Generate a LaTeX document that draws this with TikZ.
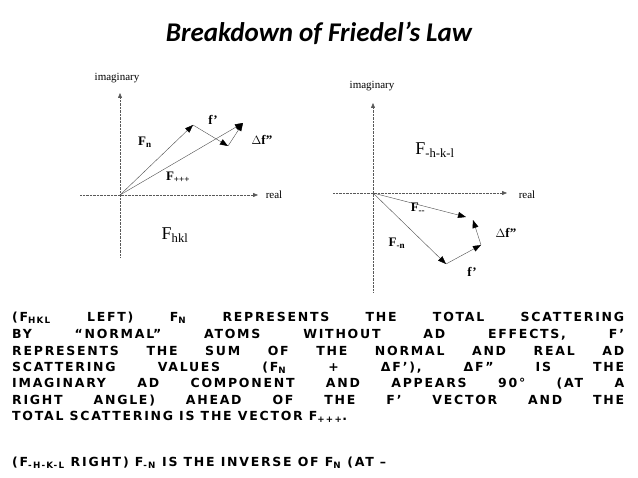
\documentclass[tikz,border=0pt]{standalone}
\usepackage{fontspec}
\setmainfont{Liberation Serif}
\newfontfamily\titlefont{Carlito}
\newfontfamily\bodyfont[LetterSpace=14]{DejaVu Sans}
\usetikzlibrary{arrows.meta}
\begin{document}
\begin{tikzpicture}[x=1pt,y=-1pt,
  axis/.style={densely dotted,gray!70!black,-{Triangle[length=5pt,width=4pt]}},
  vec/.style={gray!60!black,thin,-{Triangle[length=8pt,width=6pt,black]}},
  lab/.style={font=\bfseries\fontsize{13}{14}\selectfont,inner sep=0},
  ax/.style={font=\fontsize{11}{12}\selectfont,inner sep=0},
  big/.style={font=\fontsize{18}{19}\selectfont,inner sep=0},
  line/.style={anchor=west,inner sep=0,font=\bodyfont\bfseries\fontsize{12.5}{13}\selectfont}]
\useasboundingbox (0,0) rectangle (638,478);
\node[font=\titlefont\bfseries\itshape\fontsize{27}{30}\selectfont] (title) at (319,33) {Breakdown of Friedel’s Law};
% left diagram
\coordinate (o1) at (120,195);
\coordinate (y1b) at (120,257); \coordinate (y1t) at (120,93);
\coordinate (x1l) at (80,195); \coordinate (x1r) at (258,195);
\draw[axis] (y1b) -- (y1t);
\draw[axis] (x1l) -- (x1r);
\node[ax] (re1) at (274,195) {real};
\node[ax] (im1) at (117,78) {imaginary};
\coordinate (fn) at (193,125);
\coordinate (fp) at (228,146);
\coordinate (fppp) at (243,123);
\draw[vec] (o1) -- (fn);
\draw[vec] (fn) -- (fp);
\draw[vec] (fp) -- (fppp);
\draw[vec] (o1) -- (fppp);
\node[lab] (l1) at (213,120) {f’};
\node[lab] (l2) at (145,142) {F\textsubscript{n}};
\node[lab] (l3) at (262,140) {$\Delta$f”};
\node[lab] (l4) at (178,177) {F\textsubscript{+++}};
\node[big] (l5) at (175,235) {F\textsubscript{hkl}};
% right diagram
\coordinate (o2) at (373,193);
\coordinate (y2b) at (373,292); \coordinate (y2t) at (373,103);
\coordinate (x2l) at (333,193); \coordinate (x2r) at (507,193);
\draw[axis] (y2b) -- (y2t);
\draw[axis] (x2l) -- (x2r);
\node[ax] (re2) at (527,195) {real};
\node[ax] (im2) at (372,86) {imaginary};
\coordinate (gn) at (446,264);
\coordinate (gp) at (481,245);
\coordinate (gm) at (466,217);
\draw[vec] (o2) -- (gn);
\draw[vec] (gn) -- (gp);
\draw[vec] (gp) -- (473,220);
\draw[vec] (o2) -- (gm);
\node[big] (r1) at (435,150) {F\textsubscript{-h-k-l}};
\node[lab] (r2) at (418,208) {F\textsubscript{-{}-}};
\node[lab] (r3) at (397,243) {F\textsubscript{-n}};
\node[lab] (r4) at (506,233) {$\Delta$f”};
\node[lab] (r5) at (472,272) {f’};
% text
\node[line] (t1) at (12,318) {\makebox[612pt][s]{(F\textsubscript{HKL} LEFT) F\textsubscript{N} REPRESENTS THE TOTAL SCATTERING}};
\node[line] (t2) at (12,334.5) {\makebox[612pt][s]{BY “NORMAL” ATOMS WITHOUT AD EFFECTS, F’}};
\node[line] (t3) at (12,351) {\makebox[612pt][s]{REPRESENTS THE SUM OF THE NORMAL AND REAL AD}};
\node[line] (t4) at (12,367.5) {\makebox[612pt][s]{SCATTERING VALUES (F\textsubscript{N} + ΔF’), ΔF” IS THE}};
\node[line] (t5) at (12,384) {\makebox[612pt][s]{IMAGINARY AD COMPONENT AND APPEARS 90° (AT A}};
\node[line] (t6) at (12,400.5) {\makebox[612pt][s]{RIGHT ANGLE) AHEAD OF THE F’ VECTOR AND THE}};
\node[line] (t7) at (12,417) {TOTAL SCATTERING IS THE VECTOR F\textsubscript{+++}.};
\node[line] (t8) at (12,463) {(F\textsubscript{-H-K-L} RIGHT) F\textsubscript{-N} IS THE INVERSE OF F\textsubscript{N} (AT –};
\end{tikzpicture}
\end{document}
